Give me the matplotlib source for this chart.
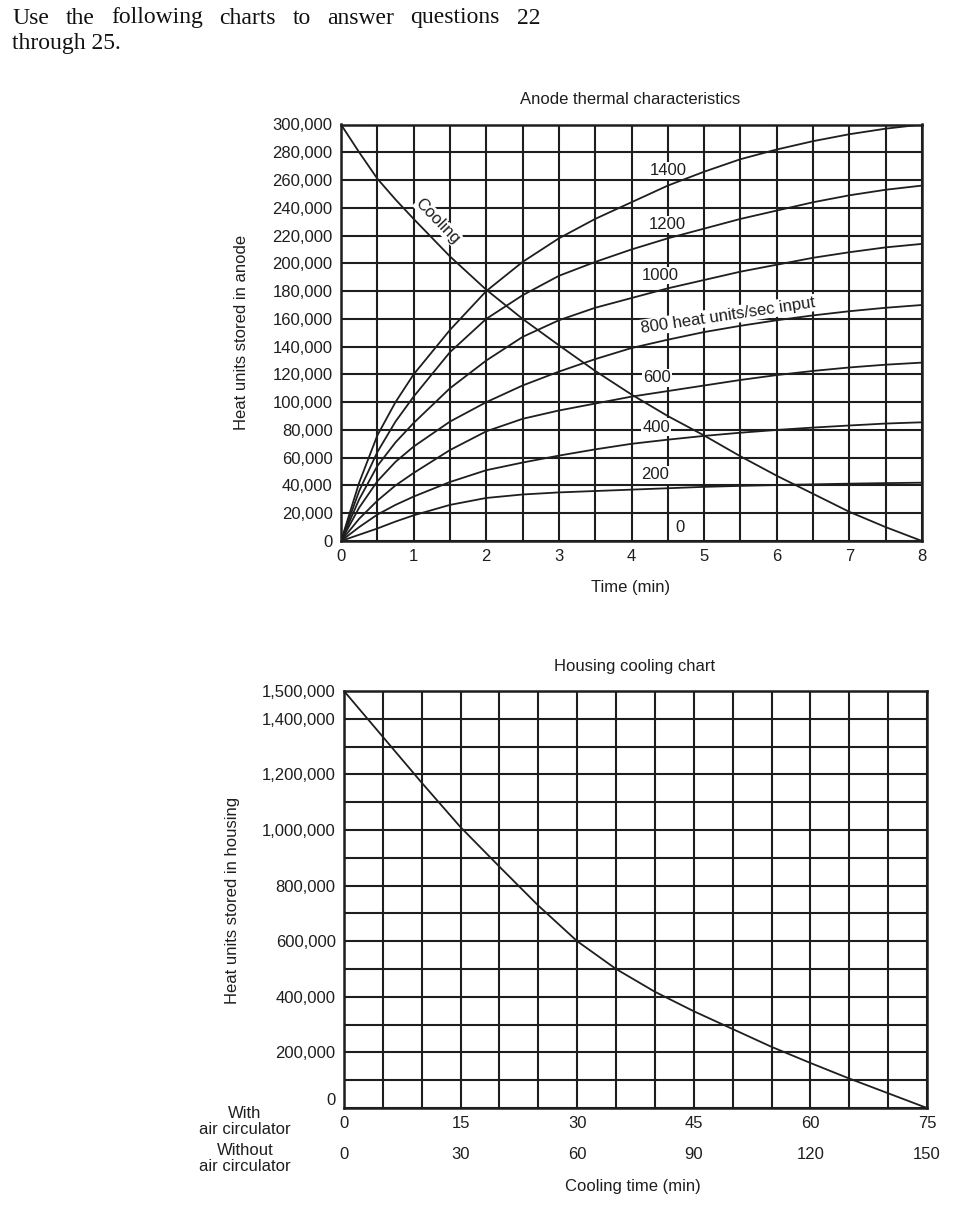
import matplotlib
matplotlib.use("Agg")
import matplotlib.pyplot as plt
import numpy as np

plt.rcParams['font.family'] = ['Liberation Sans', 'DejaVu Sans']

# ---------------- data: anode thermal characteristics ----------------
anode_time = [0, 0.25, 0.5, 0.75, 1, 1.5, 2, 2.5, 3, 3.5, 4, 4.5, 5, 5.5, 6, 6.5, 7, 7.5, 8]
heat_1400 = [0, 42000, 76000, 100000, 120000, 152000, 180000, 201000, 218000, 232000, 244000,
             256000, 266000, 275000, 282000, 288000, 293000, 297000, 300000]
heat_1200 = [0, 36000, 64000, 86000, 104000, 136000, 160000, 177000, 191000, 201000, 210000,
             218000, 225000, 232000, 238000, 244000, 249000, 253000, 256000]
heat_1000 = [0, 30000, 54000, 71000, 85000, 110000, 130000, 147000, 159000, 168000, 175000,
             182000, 188000, 194000, 199000, 204000, 208000, 211500, 214000]
heat_800 = [0, 24000, 43000, 57000, 68000, 86000, 100000, 112000, 122000, 131000, 139000,
            145000, 150500, 155000, 159000, 162500, 165500, 168000, 170000]
heat_600 = [0, 16000, 29000, 40000, 49000, 65500, 79000, 88000, 94000, 99000, 104000,
            108000, 112000, 116000, 119500, 122500, 125000, 127000, 128500]
heat_400 = [0, 10000, 19000, 26000, 32000, 42500, 51000, 56500, 61500, 66000, 70000,
            73000, 75700, 78000, 80000, 81700, 83200, 84600, 85500]
heat_200 = [0, 4500, 9000, 14000, 18500, 26000, 31000, 33500, 35000, 36000, 37000,
            38000, 39000, 39700, 40300, 40800, 41300, 41700, 42000]

cooling_time = [0, 0.25, 0.5, 0.75, 1, 1.5, 2, 2.5, 3, 3.5, 4, 4.5, 5, 5.5, 6, 6.5, 7, 7.5, 8]
cooling_hu = [300000, 280000, 261000, 246000, 232000, 205000, 181000, 160000, 141000, 122500,
              105500, 90000, 76000, 61000, 47000, 34000, 21000, 10000, 0]

curve_labels = ["1400", "1200", "1000", "800 heat units/sec input", "600", "400", "200", "0"]

anode_yticks = list(range(0, 300001, 20000))
anode_xticks = [0, 1, 2, 3, 4, 5, 6, 7, 8]

# ---------------- data: housing cooling chart ----------------
housing_time = [0, 5, 10, 15, 20, 25, 30, 35, 40, 45, 50, 55, 60, 65, 70, 75]
housing_hu = [1500000, 1335000, 1170000, 1010000, 868000, 728000, 600000, 500000, 418000,
              348000, 284000, 220000, 162000, 106000, 53000, 0]

housing_yticks = [0, 200000, 400000, 600000, 800000, 1000000, 1200000, 1400000, 1500000]
with_circ_ticks = [0, 15, 30, 45, 60, 75]
without_circ_labels = ["0", "30", "60", "90", "120", "150"]

# ---------------- figure ----------------
W, H = 976, 1224
fig = plt.figure(figsize=(W / 100, H / 100), dpi=100)
INK = '#1e1e1e'
GRID_LW = 1.5
CURVE_LW = 1.3
FS = 12


def px_axes(left, top, right, bottom):
    return fig.add_axes([left / W, 1 - bottom / H, (right - left) / W, (bottom - top) / H])


# header (justified first line)
renderer = fig.canvas.get_renderer()
line1 = "Use the following charts to answer questions 22"
words = line1.split()
texts = [fig.text(0, 1 - 18 / H, w, fontsize=17, family=['Liberation Serif'], va='center',
                  color='#111111') for w in words]
widths = [t.get_window_extent(renderer).width for t in texts]
gap = (540 - 12 - sum(widths)) / (len(words) - 1)
xpos = 12
for t, w in zip(texts, widths):
    t.set_x(xpos / W)
    xpos += w + gap
fig.text(12 / W, 1 - 44 / H, "through 25.", fontsize=17, family=['Liberation Serif'],
         va='center', color='#111111')

# ---------------- top chart ----------------
ax = px_axes(341, 124.5, 922, 541)
ax.set_xlim(0, 8)
ax.set_ylim(0, 300000)
ax.set_xticks(anode_xticks)
ax.set_xticks(np.arange(0, 8.01, 0.5), minor=True)
ax.set_yticks(anode_yticks)
ax.set_yticklabels([f"{v:,}" for v in anode_yticks])
ax.tick_params(which='both', length=0, labelsize=FS, colors=INK)
ax.tick_params(axis='y', pad=6)
ax.tick_params(axis='x', pad=6)
ax.grid(which='both', color=INK, linewidth=GRID_LW)
ax.set_axisbelow(True)
for s in ax.spines.values():
    s.set_linewidth(1.8)
    s.set_color(INK)

for series in [heat_1400, heat_1200, heat_1000, heat_800, heat_600, heat_400, heat_200]:
    ax.plot(anode_time, series, color=INK, lw=CURVE_LW, zorder=3)
ax.plot(cooling_time, cooling_hu, color=INK, lw=CURVE_LW, zorder=3)

lab_pos = [(4.5, 267000, 0), (4.5, 228000, 0), (4.4, 191000, 0), (5.33, 162500, 8.5),
           (4.35, 117500, 0), (4.34, 82000, 0), (4.33, 47600, 0), (4.67, 9400, 0)]
for text, (lx, ly, rot) in zip(curve_labels, lab_pos):
    ax.text(lx, ly, text, fontsize=FS, ha='center', va='center', rotation=rot,
            rotation_mode='anchor', color=INK, zorder=2.5,
            bbox=dict(facecolor='white', edgecolor='none', pad=0.8))
ax.text(1.33, 230500, "Cooling", fontsize=FS, ha='center', va='center', rotation=-46,
        rotation_mode='anchor', color=INK, zorder=2.5,
        bbox=dict(facecolor='white', edgecolor='none', pad=0.3))

fig.text(630 / W, 1 - 99 / H, "Anode thermal characteristics", fontsize=FS, ha='center',
         va='center', color=INK)
fig.text(631 / W, 1 - 587 / H, "Time (min)", fontsize=FS, ha='center', va='center', color=INK)
fig.text(241 / W, 1 - 332 / H, "Heat units stored in anode", fontsize=FS, ha='center',
         va='center', rotation=90, color=INK)

# ---------------- bottom chart ----------------
bx = px_axes(344, 691, 927, 1108)
bx.set_xlim(0, 75)
bx.set_ylim(0, 1500000)
bx.set_xticks(with_circ_ticks)
bx.set_xticks(np.arange(0, 75.1, 5), minor=True)
bx.set_yticks(housing_yticks)
bx.set_yticklabels([f"{v:,}" for v in housing_yticks])
bx.set_yticks(np.arange(0, 1500001, 100000), minor=True)
bx.tick_params(which='both', length=0, labelsize=FS, colors=INK)
bx.tick_params(axis='y', pad=6)
bx.tick_params(axis='x', pad=6)
bx.grid(which='both', color=INK, linewidth=GRID_LW)
bx.set_axisbelow(True)
for s in bx.spines.values():
    s.set_linewidth(1.8)
    s.set_color(INK)
bx.plot(housing_time, housing_hu, color=INK, lw=CURVE_LW, zorder=3)
bx.yaxis.get_major_ticks()[0].label1.set_verticalalignment('bottom')

sec = bx.secondary_xaxis(-31 / 417)
sec.set_xticks(with_circ_ticks)
sec.set_xticklabels(without_circ_labels)
sec.tick_params(length=0, labelsize=FS, colors=INK, pad=6)
sec.spines['bottom'].set_visible(False)

fig.text(245 / W, 1 - 1121.5 / H, "With\nair circulator", fontsize=FS, ha='center',
         va='center', multialignment='center', linespacing=1.15, color=INK)
fig.text(245 / W, 1 - 1158.5 / H, "Without\nair circulator", fontsize=FS, ha='center',
         va='center', multialignment='center', linespacing=1.15, color=INK)

fig.text(635 / W, 1 - 667 / H, "Housing cooling chart", fontsize=FS, ha='center',
         va='center', color=INK)
fig.text(633 / W, 1 - 1186 / H, "Cooling time (min)", fontsize=FS, ha='center',
         va='center', color=INK)
fig.text(232 / W, 1 - 900 / H, "Heat units stored in housing", fontsize=FS, ha='center',
         va='center', rotation=90, color=INK)

fig.savefig("out.png", dpi=100)
